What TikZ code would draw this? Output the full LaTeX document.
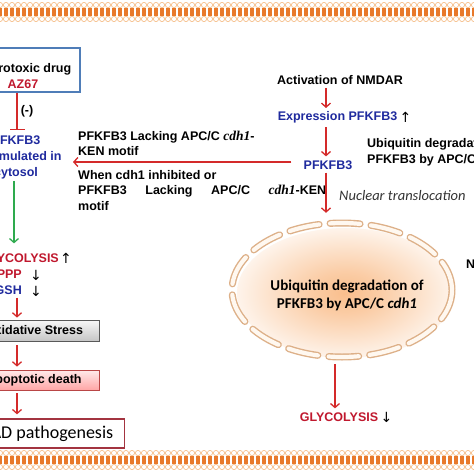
\documentclass[tikz,border=0pt]{standalone}
\usepackage{fontspec}
\setmainfont{Liberation Sans}
\newfontfamily\calibri{Carlito}
\newfontfamily\serifcdh{Liberation Serif}
\newfontfamily\arrowfont{DejaVu Sans}
\usetikzlibrary{arrows.meta,shapes.geometric,shadows}
\definecolor{arrred}{HTML}{D42A2A}
\definecolor{arrgreen}{HTML}{2EAA4E}
\definecolor{txtred}{HTML}{C0182E}
\definecolor{txtblue}{HTML}{1F2A9E}
\definecolor{boxblue}{HTML}{4F7DB8}
\definecolor{adred}{HTML}{A33440}
\definecolor{memorange}{HTML}{E8792A}
\definecolor{memlight}{HTML}{F6C08C}
\definecolor{nuctan}{HTML}{DDB088}
\definecolor{nuccream}{HTML}{FFF8F0}
\definecolor{nucglow}{HTML}{F7A35C}
\pgfdeclareradialshading{nucleusglow}{\pgfpoint{0bp}{0bp}}{color(0bp)=(nucglow!70!white); color(8bp)=(nucglow!55!white); color(30bp)=(white); color(50bp)=(white)}
\newcommand{\cdhs}{{\serifcdh\bfseries\itshape\fontsize{13.5}{15.5}\selectfont cdh1}}
\tikzset{
  txt/.style={font=\bfseries\fontsize{12.5}{15.5}\selectfont, inner sep=0pt},
  redtxt/.style={txt, text=txtred},
  bluetxt/.style={txt, text=txtblue},
  updown/.style={font=\arrowfont\fontsize{14}{14}\selectfont, inner sep=0pt},
  redarr/.style={draw=arrred, line width=1.3pt, -{Straight Barb[length=4pt,width=9pt]}},
  greenarr/.style={redarr, draw=arrgreen},
  inhib/.style={draw=arrred, line width=1.3pt, -{Bar[width=15pt]}},
  flowbox/.style={txt, minimum width=130pt, minimum height=21pt, line width=0.8pt},
  oxbox/.style={flowbox, draw=gray!70!black, top color=gray!6, bottom color=gray!45,
    drop shadow={shadow xshift=1.2pt, shadow yshift=-1.2pt, opacity=.35}},
  apobox/.style={flowbox, minimum height=20pt, draw=red!45!gray, top color=red!8, bottom color=red!35,
    drop shadow={shadow xshift=1.2pt, shadow yshift=-1.2pt, opacity=.3}},
  adbox/.style={font=\calibri\fontsize{18}{20}\selectfont, inner sep=0pt, draw=adred, line width=1.3pt,
    fill=white, minimum width=145pt, minimum height=29pt},
  nuctxt/.style={font=\calibri\itshape\fontsize{14.5}{16}\selectfont, text=black!80, inner sep=0pt},
  capsule/.style={line width=#1, dash pattern=on 30pt off 11pt, line cap=round}
}
\begin{document}
\begin{tikzpicture}[x=1pt,y=-1pt]
\path[use as bounding box, clip] (0,0) rectangle (474,474);
\fill[white] (0,0) rectangle (474,474);
\foreach \y in {5,453} {
  \foreach \x in {0,6,...,480} {
    \fill[memorange] (\x-1.7,\y+3) rectangle (\x+1.7,\y+11);
    \filldraw[fill=white, draw=memlight, line width=0.7pt] (\x,\y) circle (2.6pt) (\x,\y+14) circle (2.6pt);
  }
}
\shade[shading=nucleusglow] (345,293) ellipse [x radius=108pt, y radius=65pt];
\draw[capsule=7pt, nuctan] (342,290) ellipse [x radius=110pt, y radius=67pt];
\draw[capsule=4.2pt, nuccream] (342,290) ellipse [x radius=110pt, y radius=67pt];
\node[ellipse, minimum width=220pt, minimum height=134pt] (nuc) at (342,290) {};
\node[font=\calibri\bfseries\fontsize{15}{18}\selectfont, align=center, inner sep=0pt] (ubq) at (347,295)
  {Ubiquitin degradation of\\PFKFB3 by APC/C \textit{cdh1}};
\node[draw=boxblue, line width=1.8pt, minimum width=120pt, minimum height=44pt] (drug) at (20,70) {};
\node[txt, align=center] (drugtxt) at (23,76) {Neurotoxic drug\\\textcolor{txtred}{AZ67}};
\node[txt] (minus) at (27,111) {(-)};
\node[bluetxt, align=center, font=\bfseries\fontsize{12.5}{16}\selectfont] (acc) at (16,157) {PFKFB3\\accumulated in\\cytosol};
\node[redtxt, anchor=east] (glyL) at (59,258) {GLYCOLYSIS};
\node[updown, anchor=west] at ([xshift=1pt]glyL.east) {↑};
\node[redtxt, anchor=east] (ppp) at (22,274) {PPP};
\node[updown] at (36,275) {↓};
\node[bluetxt, anchor=east] (gsh) at (22,290) {GSH};
\node[updown] at (36,291) {↓};
\node[oxbox] (ox) at (34,330.5) {Oxidative Stress};
\node[apobox] (apo) at (34,380) {Apoptotic death};
\node[adbox] (ad) at (52,433.5) {AD pathogenesis};
\node[txt, align=left, anchor=west] (lack) at (78,143.5) {PFKFB3 Lacking APC/C \cdhs-\\KEN motif};
\node[txt, align=justify, text width=248pt, anchor=west] (when) at (78,190.5)
  {When cdh1 inhibited or\\PFKFB3 Lacking APC/C \cdhs-KEN\linebreak motif};
\node[txt] (act) at (340,80) {Activation of NMDAR};
\node[bluetxt] (expr) at (337.5,117) {Expression PFKFB3};
\node[updown, anchor=west] at ([xshift=2pt]expr.east) {↑};
\node[bluetxt] (pfk) at (328,165) {PFKFB3};
\node[txt, align=left, anchor=west] (ubqR) at (367,152.5) {Ubiquitin degradation of\\PFKFB3 by APC/C \cdhs};
\node[nuctxt, anchor=west] (transl) at (339,196) {Nuclear translocation};
\node[txt, anchor=west] (nucleus) at (466,264) {Nucleus};
\node[redtxt] (glyR) at (339,417) {GLYCOLYSIS};
\node[updown, anchor=west] at ([xshift=2pt]glyR.east) {↓};
\coordinate (rx) at (326,0);
\coordinate (lx) at (17,0);
\coordinate (tip) at (73,162);
\draw[inhib] (drug.south -| lx) -- ([yshift=5pt]acc.north -| lx);
\draw[greenarr, shorten <=2pt] (acc.south -| 14,0) -- ([yshift=10pt]glyL.north -| 14,0);
\draw[redarr] ([yshift=-3pt]gsh.south -| lx) -- ([yshift=2pt]ox.north -| lx);
\draw[redarr, shorten <=4pt, shorten >=3pt] (ox.south -| lx) -- (apo.north -| lx);
\draw[redarr, shorten <=3pt, shorten >=4pt] (apo.south -| lx) -- (ad.north -| lx);
\draw[redarr, shorten <=3pt, shorten >=3pt] (act.south -| rx) -- (expr.north -| rx);
\draw[redarr, shorten <=4pt, shorten >=4pt] (expr.south -| rx) -- (pfk.north -| rx);
\draw[redarr] ([xshift=-12pt]pfk.west |- tip) -- (tip);
\draw[redarr, shorten <=3pt, shorten >=10pt] (pfk.south -| rx) -- (nuc.north -| rx);
\draw[redarr, shorten <=7pt, shorten >=4pt] (nuc.south -| 335,0) -- (glyR.north -| 335,0);
\end{tikzpicture}
\end{document}
